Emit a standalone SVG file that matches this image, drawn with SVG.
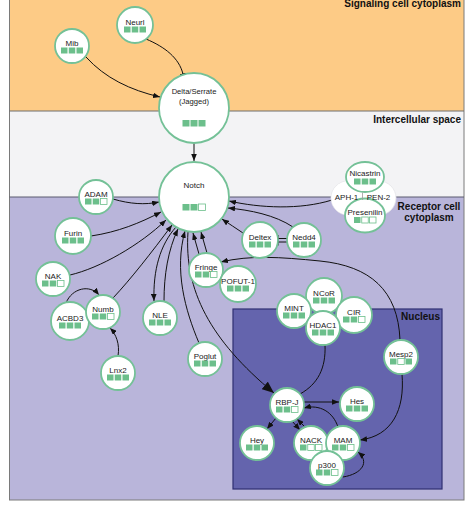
<svg xmlns="http://www.w3.org/2000/svg" width="474" height="521" viewBox="0 0 474 521">
<defs>
<style>
.nd{fill:#fff;stroke:#74c197;stroke-width:1.8}
.lb{font-family:"Liberation Sans",Arial,sans-serif;font-size:8px;fill:#1a1a1a;text-anchor:middle}
.rg{font-family:"Liberation Sans",Arial,sans-serif;font-size:10px;font-weight:bold;fill:#111}
.f{fill:#6cbf8b}
.e{fill:#fff;stroke:#6cbf8b;stroke-width:0.8}
.c{fill:none;stroke:#111;stroke-width:1}
.ca{fill:none;stroke:#111;stroke-width:1;marker-end:url(#ah)}
</style>
<marker id="ah" viewBox="0 0 10 8" refX="10" refY="4" markerWidth="7" markerHeight="5.6" orient="auto" markerUnits="userSpaceOnUse"><path d="M0,0 L10,4 L0,8 z" fill="#111"/></marker>
<marker id="ahb" viewBox="0 0 10 8" refX="10" refY="4" markerWidth="12" markerHeight="9.6" orient="auto" markerUnits="userSpaceOnUse"><path d="M0,0 L10,4 L0,8 z" fill="#111"/></marker>
<marker id="tb" viewBox="0 0 2 10" refX="1" refY="5" markerWidth="1.3" markerHeight="6" orient="auto" markerUnits="userSpaceOnUse"><rect width="2" height="10" fill="#111"/></marker>
</defs>

<g id="background">
<rect x="9.5" y="-1" width="454.5" height="112" fill="#fdcb86"/>
<rect x="9.5" y="111" width="454.5" height="86" fill="#f3f3f5"/>
<rect x="9.5" y="197" width="454.5" height="303" fill="#b9b5da"/>
<rect x="9.5" y="-1" width="454.5" height="501" fill="none" stroke="#7a7a7a" stroke-width="1"/>
<line x1="9.5" y1="111" x2="464" y2="111" stroke="#6e6e6e" stroke-width="1"/>
<line x1="9.5" y1="197" x2="464" y2="197" stroke="#5a5a6e" stroke-width="1"/>
<rect x="233" y="309" width="209" height="180" fill="#6464ad" stroke="#2f2f72" stroke-width="1.2"/>
<text class="rg" x="461" y="7" text-anchor="end">Signaling cell cytoplasm</text>
<text class="rg" x="461" y="123" text-anchor="end">Intercellular space</text>
<text class="rg" x="429" y="210" text-anchor="middle">Receptor cell</text>
<text class="rg" x="429" y="221" text-anchor="middle">cytoplasm</text>
<text class="rg" x="440" y="320" text-anchor="end">Nucleus</text>
</g>

<g id="connectors">
<path class="ca" d="M86 57 C105 78 130 90 160 97"/>
<path class="c" d="M146 39 C165 47 179 58 183 74" marker-end="url(#tb)"/>
<path class="ca" d="M194 143 L194 161"/>
<path class="ca" d="M113 199 C130 204 145 205 159 202"/>
<path class="ca" d="M91 236 C118 232 140 223 161 212"/>
<path class="ca" d="M70 275 C100 268 140 245 166 220"/>
<path class="ca" d="M113 298 C130 280 152 252 172 225"/>
<path class="ca" d="M176 227 C160 245 153 270 154 301"/>
<path class="ca" d="M164 301 C164 275 168 250 178 229"/>
<path class="ca" d="M199 343 C185 310 174 270 185 231"/>
<path class="c" d="M188 232 C184 290 210 340 274 393" stroke-width="2" marker-end="url(#ahb)"/>
<path class="ca" d="M199 254 L193 233"/>
<path class="ca" d="M207 253 L201 232"/>
<path class="ca" d="M243 233 C236 228 229 224 222 219"/>
<path class="ca" d="M293 227 C275 215 250 210 228 208"/>
<path class="ca" d="M332 200 C300 210 260 208 229 201"/>
<path class="ca" d="M400 340 C398 290 370 266 320 261 C280 257 250 255 221 262"/>
<path class="c" d="M278 238.5 L287 238.5 M278 242 L287 242"/>
<path class="c" d="M278 235 L278 245.5" stroke-width="1.3"/>
<path class="ca" d="M66 303 C72 288 90 284 99 295"/>
<path class="ca" d="M118 356 C120 344 116 334 110 328"/>
<path class="c" d="M325 345 C326 368 318 384 300 394"/>
<path class="ca" d="M304 402 L339 402"/>
<path class="ca" d="M276 418 L267 429"/>
<path class="ca" d="M292 421 L300 430"/>
<path class="ca" d="M305 427 L297 419"/>
<path class="ca" d="M338 427 C333 412 320 404 304 408"/>
<path class="ca" d="M402 374 C405 410 392 436 360 440"/>
<path class="ca" d="M343 477 C362 474 370 462 358 452"/>
</g>

<g id="n-mib" transform="translate(72,46)"><circle r="17" class="nd"/><text class="lb" y="-0.5">Mib</text><rect class="f" x="-11" y="1.5" width="6.5" height="6"/><rect class="f" x="-3.25" y="1.5" width="6.5" height="6"/><rect class="f" x="4.5" y="1.5" width="6.5" height="6"/></g>
<g id="n-neurl" transform="translate(135,25)"><circle r="18" class="nd"/><text class="lb" y="-0.5">Neurl</text><rect class="f" x="-11" y="1.5" width="6.5" height="6"/><rect class="f" x="-3.25" y="1.5" width="6.5" height="6"/><rect class="f" x="4.5" y="1.5" width="6.5" height="6"/></g>
<g id="n-delta" transform="translate(194,108)"><circle r="35" class="nd"/><text class="lb" y="-14" style="font-size:7.6px">Delta/Serrate</text><text class="lb" y="-4" style="font-size:7.6px">(Jagged)</text><rect class="f" x="-11.5" y="12" width="7" height="6.5"/><rect class="f" x="-3.5" y="12" width="7" height="6.5"/><rect class="f" x="4.5" y="12" width="7" height="6.5"/></g>
<g id="n-notch" transform="translate(194,197)"><circle r="35" class="nd"/><text class="lb" y="-9">Notch</text><rect class="f" x="-11.5" y="7" width="7" height="6.5"/><rect class="f" x="-3.5" y="7" width="7" height="6.5"/><rect class="e" x="4.5" y="7" width="7" height="6.5"/></g>
<g id="n-adam" transform="translate(96,197)"><circle r="17" class="nd"/><text class="lb" y="-0.5">ADAM</text><rect class="f" x="-11" y="1.5" width="6.5" height="6"/><rect class="f" x="-3.25" y="1.5" width="6.5" height="6"/><rect class="e" x="4.5" y="1.5" width="6.5" height="6"/></g>
<g id="n-furin" transform="translate(73,236)"><circle r="18" class="nd"/><text class="lb" y="-0.5">Furin</text><rect class="f" x="-11" y="1.5" width="6.5" height="6"/><rect class="f" x="-3.25" y="1.5" width="6.5" height="6"/><rect class="f" x="4.5" y="1.5" width="6.5" height="6"/></g>
<g id="n-nak" transform="translate(53,279)"><circle r="17" class="nd"/><text class="lb" y="-0.5">NAK</text><rect class="f" x="-11" y="1.5" width="6.5" height="6"/><rect class="f" x="-3.25" y="1.5" width="6.5" height="6"/><rect class="e" x="4.5" y="1.5" width="6.5" height="6"/></g>
<g id="n-acbd3" transform="translate(70,321)"><circle r="19" class="nd"/><text class="lb" y="-0.5">ACBD3</text><rect class="f" x="-11" y="1.5" width="6.5" height="6"/><rect class="f" x="-3.25" y="1.5" width="6.5" height="6"/><rect class="f" x="4.5" y="1.5" width="6.5" height="6"/></g>
<g id="n-numb" transform="translate(103,312)"><circle r="17" class="nd"/><text class="lb" y="-0.5">Numb</text><rect class="f" x="-11" y="1.5" width="6.5" height="6"/><rect class="f" x="-3.25" y="1.5" width="6.5" height="6"/><rect class="e" x="4.5" y="1.5" width="6.5" height="6"/></g>
<g id="n-lnx2" transform="translate(118,373)"><circle r="17" class="nd"/><text class="lb" y="-0.5">Lnx2</text><rect class="f" x="-11" y="1.5" width="6.5" height="6"/><rect class="f" x="-3.25" y="1.5" width="6.5" height="6"/><rect class="f" x="4.5" y="1.5" width="6.5" height="6"/></g>
<g id="n-nle" transform="translate(160,318)"><circle r="17" class="nd"/><text class="lb" y="-0.5">NLE</text><rect class="f" x="-11" y="1.5" width="6.5" height="6"/><rect class="f" x="-3.25" y="1.5" width="6.5" height="6"/><rect class="f" x="4.5" y="1.5" width="6.5" height="6"/></g>
<g id="n-poglut" transform="translate(205,359)"><circle r="17" class="nd"/><text class="lb" y="-0.5">Poglut</text><rect class="f" x="-11" y="1.5" width="6.5" height="6"/><rect class="f" x="-3.25" y="1.5" width="6.5" height="6"/><rect class="f" x="4.5" y="1.5" width="6.5" height="6"/></g>
<g id="n-fringe" transform="translate(206,270)"><circle r="17" class="nd"/><text class="lb" y="-0.5">Fringe</text><rect class="f" x="-11" y="1.5" width="6.5" height="6"/><rect class="f" x="-3.25" y="1.5" width="6.5" height="6"/><rect class="e" x="4.5" y="1.5" width="6.5" height="6"/></g>
<g id="n-pofut1" transform="translate(238,284)"><circle r="18" class="nd"/><text class="lb" y="-0.5">POFUT-1</text><rect class="f" x="-11" y="1.5" width="6.5" height="6"/><rect class="f" x="-3.25" y="1.5" width="6.5" height="6"/><rect class="f" x="4.5" y="1.5" width="6.5" height="6"/></g>
<g id="n-deltex" transform="translate(260,240)"><circle r="18" class="nd"/><text class="lb" y="-0.5">Deltex</text><rect class="f" x="-11" y="1.5" width="6.5" height="6"/><rect class="f" x="-3.25" y="1.5" width="6.5" height="6"/><rect class="f" x="4.5" y="1.5" width="6.5" height="6"/></g>
<g id="n-nedd4" transform="translate(304,240)"><circle r="17" class="nd"/><text class="lb" y="-0.5">Nedd4</text><rect class="f" x="-11" y="1.5" width="6.5" height="6"/><rect class="f" x="-3.25" y="1.5" width="6.5" height="6"/><rect class="f" x="4.5" y="1.5" width="6.5" height="6"/></g>
<g id="n-aph1-pen2">
<circle cx="348" cy="198" r="17" fill="#fff" stroke="#e4e4e8" stroke-width="0.8"/>
<circle cx="379" cy="198" r="17" fill="#fff" stroke="#e4e4e8" stroke-width="0.8"/>
<circle cx="348" cy="198" r="16.5" fill="#fff"/>
</g>
<g id="n-nicastrin" transform="translate(365,177)"><ellipse rx="19" ry="15" class="nd"/><text class="lb" y="-1">Nicastrin</text><rect class="f" x="-11" y="1.5" width="6.5" height="6"/><rect class="f" x="-3.25" y="1.5" width="6.5" height="6"/><rect class="f" x="4.5" y="1.5" width="6.5" height="6"/></g>
<g id="n-presenilin" transform="translate(365,215.5)"><ellipse rx="20" ry="17" class="nd"/><text class="lb" y="-0.5">Presenilin</text><rect class="f" x="-11" y="1.5" width="6.5" height="6"/><rect class="e" x="-3.25" y="1.5" width="6.5" height="6"/><rect class="e" x="4.5" y="1.5" width="6.5" height="6"/></g>
<g id="n-aph1-pen2-label">
<line x1="362.5" y1="192.5" x2="362.5" y2="200" stroke="#9a9a9a" stroke-width="0.8"/>
<text class="lb" x="346.5" y="199.5">APH-1</text>
<text class="lb" x="378.5" y="199.5">PEN-2</text>
</g>
<g id="n-ncor" transform="translate(324,296)"><circle r="18" class="nd"/><text class="lb" y="-0.5">NCoR</text><rect class="f" x="-11" y="1.5" width="6.5" height="6"/><rect class="f" x="-3.25" y="1.5" width="6.5" height="6"/><rect class="f" x="4.5" y="1.5" width="6.5" height="6"/></g>
<g id="n-mint" transform="translate(294,311)"><circle r="17" class="nd"/><text class="lb" y="-0.5">MINT</text><rect class="f" x="-11" y="1.5" width="6.5" height="6"/><rect class="f" x="-3.25" y="1.5" width="6.5" height="6"/><rect class="f" x="4.5" y="1.5" width="6.5" height="6"/></g>
<g id="n-cir" transform="translate(354,315)"><circle r="18" class="nd"/><text class="lb" y="-0.5">CIR</text><rect class="f" x="-11" y="1.5" width="6.5" height="6"/><rect class="f" x="-3.25" y="1.5" width="6.5" height="6"/><rect class="e" x="4.5" y="1.5" width="6.5" height="6"/></g>
<g id="n-hdac1" transform="translate(323,328)"><circle r="17" class="nd"/><text class="lb" y="-0.5">HDAC1</text><rect class="f" x="-11" y="1.5" width="6.5" height="6"/><rect class="f" x="-3.25" y="1.5" width="6.5" height="6"/><rect class="f" x="4.5" y="1.5" width="6.5" height="6"/></g>
<g id="n-mesp2" transform="translate(401,357)"><circle r="17" class="nd"/><text class="lb" y="-0.5">Mesp2</text><rect class="f" x="-11" y="1.5" width="6.5" height="6"/><rect class="e" x="-3.25" y="1.5" width="6.5" height="6"/><rect class="f" x="4.5" y="1.5" width="6.5" height="6"/></g>
<g id="n-rbpj" transform="translate(287,405)"><circle r="17" class="nd"/><text class="lb" y="-0.5">RBP-J</text><rect class="f" x="-11" y="1.5" width="6.5" height="6"/><rect class="f" x="-3.25" y="1.5" width="6.5" height="6"/><rect class="e" x="4.5" y="1.5" width="6.5" height="6"/></g>
<g id="n-hes" transform="translate(357,404)"><circle r="17" class="nd"/><text class="lb" y="-0.5">Hes</text><rect class="f" x="-11" y="1.5" width="6.5" height="6"/><rect class="f" x="-3.25" y="1.5" width="6.5" height="6"/><rect class="f" x="4.5" y="1.5" width="6.5" height="6"/></g>
<g id="n-hey" transform="translate(257,443)"><circle r="17" class="nd"/><text class="lb" y="-0.5">Hey</text><rect class="f" x="-11" y="1.5" width="6.5" height="6"/><rect class="f" x="-3.25" y="1.5" width="6.5" height="6"/><rect class="f" x="4.5" y="1.5" width="6.5" height="6"/></g>
<g id="n-nack" transform="translate(311,443)"><circle r="17" class="nd"/><text class="lb" y="-0.5">NACK</text><rect class="f" x="-11" y="1.5" width="6.5" height="6"/><rect class="e" x="-3.25" y="1.5" width="6.5" height="6"/><rect class="e" x="4.5" y="1.5" width="6.5" height="6"/></g>
<g id="n-mam" transform="translate(343,443)"><circle r="17" class="nd"/><text class="lb" y="-0.5">MAM</text><rect class="f" x="-11" y="1.5" width="6.5" height="6"/><rect class="f" x="-3.25" y="1.5" width="6.5" height="6"/><rect class="e" x="4.5" y="1.5" width="6.5" height="6"/></g>
<g id="n-p300" transform="translate(327,468)"><circle r="17" class="nd"/><text class="lb" y="-0.5">p300</text><rect class="f" x="-11" y="1.5" width="6.5" height="6"/><rect class="f" x="-3.25" y="1.5" width="6.5" height="6"/><rect class="e" x="4.5" y="1.5" width="6.5" height="6"/></g>
</svg>
